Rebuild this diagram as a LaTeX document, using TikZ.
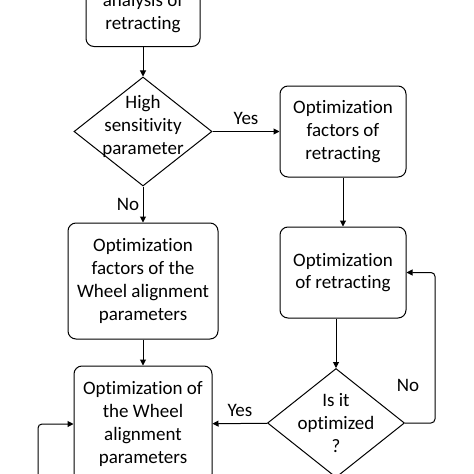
\documentclass[tikz,border=0pt]{standalone}
\usepackage{fontspec}
\setmainfont{Carlito}[Ligatures=NoCommon]
\usetikzlibrary{shapes.geometric,arrows.meta}

\begin{document}
\begin{tikzpicture}[x=1pt, y=-1pt, line width=1pt,
    every node/.style={font=\fontsize{19}{22.8}\selectfont},
    stepbox/.style={draw, rounded corners=8pt, align=center, inner sep=0pt},
    decision/.style={draw, diamond, inner sep=0pt},
    flow/.style={-{Triangle[length=6pt,width=6pt]}}]
    % the crop of the chart
    \useasboundingbox (0,0) rectangle (474,474);
    \clip (0,0) rectangle (474,474);

    % left column
    \node[stepbox, minimum width=114pt, minimum height=67pt] (sens) at (143,13) {analysis of\\retracting};
    \node[decision, minimum width=138pt, minimum height=109pt,
          label={[align=center, yshift=5pt]center:High\\sensitivity\\parameter}] (high) at (143,131.5) {};
    \node[stepbox, minimum width=150pt, minimum height=116pt] (factwheel) at (143,281) {Optimization\\factors of the\\Wheel alignment\\parameters};
    \node[stepbox, minimum width=138pt, minimum height=116pt] (optwheel) at (143,424) {Optimization of\\the Wheel\\alignment\\parameters};

    % right column
    \node[stepbox, minimum width=126pt, minimum height=91pt] (factret) at (343,131.5) {Optimization\\factors of\\retracting};
    \node[stepbox, minimum width=126pt, minimum height=91pt] (optret) at (343,272.5) {Optimization\\of retracting};
    \node[decision, minimum width=137pt, minimum height=109pt,
          label={[align=center]center:Is it\\optimized\\?}] (isopt) at (336,423) {};

    % connectors
    \draw[flow] (sens) -- (high);
    \draw[flow] (high) -- node[above, yshift=3pt] {Yes} (factret);
    \draw[flow] (high) -- node[left] {No} (factwheel);
    \draw[flow] (factwheel) -- (optwheel);
    \draw[flow] (factret) -- (optret);
    \draw[flow] (isopt.north |- optret.south) -- (isopt.north);
    \draw[flow] (isopt) -- node[above, yshift=3pt] {Yes} (optwheel);
    \draw[flow, rounded corners=4pt] (isopt.east) -- ++(30,0) |- node[pos=0.125, left=12pt] {No} (optret.east);
    \coordinate (loopin) at (38,490);
    \draw[flow, rounded corners=4pt] (loopin) |- (optwheel.west);
\end{tikzpicture}
\end{document}
